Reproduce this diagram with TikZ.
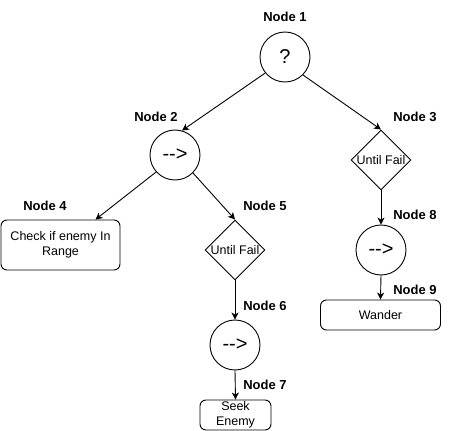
\documentclass[tikz,border=0pt]{standalone}
\usepackage{fontspec}
\setmainfont{Liberation Sans}
\usetikzlibrary{shapes.geometric,arrows.meta,calc}
\begin{document}
\begin{tikzpicture}[x=1pt,y=-1pt,
  every node/.style={inner sep=0pt},
  circ/.style={draw,circle,minimum size=50pt,line width=0.9pt,font=\fontsize{20}{22}\selectfont},
  diam/.style={draw,diamond,minimum width=60pt,minimum height=60pt,aspect=1,line width=0.9pt},
  box/.style={draw,rounded corners=6pt,line width=0.9pt,align=center,font=\fontsize{12.5}{15}\selectfont},
  lbl/.style={font=\fontsize{13}{15}\selectfont\bfseries},
  dtext/.style={font=\fontsize{12.5}{15}\selectfont},
  arr/.style={-{Stealth[length=7pt,width=7pt,inset=2pt]},line width=0.9pt}]
\useasboundingbox (0,0) rectangle (451,431);
% nodes
\node[circ] (n1) at (285,57) {?};
\node[circ] (n2) at (175,155) {-{}->};
\node[diam] (n3) at (381,160) {};
\node[dtext] (t3) at (381,160) {Until Fail};
\node[box,minimum width=119pt,minimum height=50pt] (n4) at (60.5,245) {Check if enemy In\\Range};
\node[diam] (n5) at (235,250) {};
\node[dtext] (t5) at (235,250) {Until Fail};
\node[circ] (n6) at (235,345) {-{}->};
\node[box,minimum width=71pt,minimum height=30pt] (n7) at (235.5,415) {Seek\\Enemy};
\node[circ] (n8) at (381,250) {-{}->};
\node[box,minimum width=120pt,minimum height=30pt] (n9) at (380.5,315) {Wander};
% labels
\node[lbl] (l1) at (285,17) {Node 1};
\node[lbl] (l2) at (156,117) {Node 2};
\node[lbl] (l3) at (415,117) {Node 3};
\node[lbl] (l4) at (45,206) {Node 4};
\node[lbl] (l5) at (265,206) {Node 5};
\node[lbl] (l6) at (265,306) {Node 6};
\node[lbl] (l7) at (265,385) {Node 7};
\node[lbl] (l8) at (415,215) {Node 8};
\node[lbl] (l9) at (415,290) {Node 9};
% connectors
\draw[arr] (n1.219) -- (n2.74);
\draw[arr] (n1.315) -- (n3.north);
\draw[arr] (n2.222) -- ([xshift=35pt]n4.north);
\draw[arr] (n2.315) -- (n5.north);
\draw[arr] (n5.south) -- (n6.north);
\draw[arr] (n6.south) -- (n7.north);
\draw[arr] (n3.south) -- (n8.north);
\draw[arr] (n8.south) -- (n9.north);
\end{tikzpicture}
\end{document}
